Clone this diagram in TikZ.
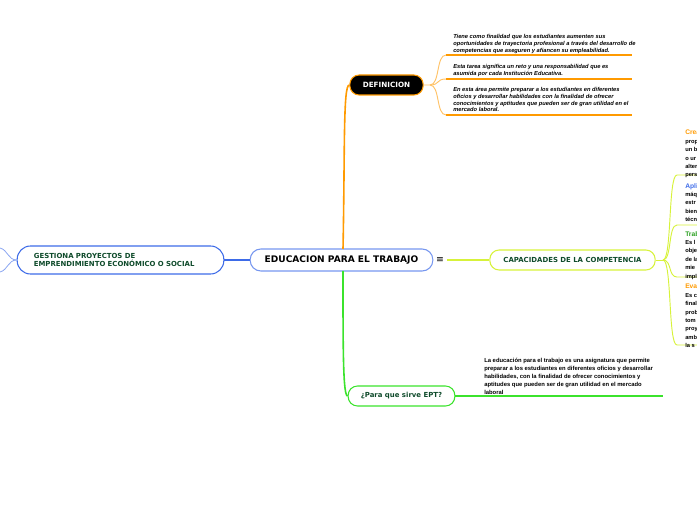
\documentclass[tikz,border=0pt]{standalone}
\usepackage{fontspec}
\setmainfont{DejaVu Sans}
\newfontfamily\arl{Liberation Sans}
\begin{document}
\begin{tikzpicture}[x=0.75pt,y=-0.75pt,
  small/.style={font=\arl\bfseries\fontsize{4.3}{5.1}\selectfont,align=left,anchor=north west,inner sep=0pt}]
\useasboundingbox (0,0) rectangle (697,520);
\clip (0,0) rectangle (697,520);
\definecolor{org}{HTML}{FF9A00}
\definecolor{blu}{HTML}{3D6BE8}
\definecolor{ylw}{HTML}{D7F23A}
\definecolor{grn}{HTML}{3BE32C}
\definecolor{dgr}{HTML}{0E4A2A}
% nodes
\node[rounded corners=8pt,draw=blu!70,line width=0.8pt,minimum width=137pt,minimum height=16.5pt,font=\bfseries\fontsize{6.8}{7.5}\selectfont] (center) at (341.5,260) {EDUCACION PARA EL TRABAJO};
\node[rounded corners=10pt,draw=blu,line width=0.8pt,minimum width=155pt,minimum height=21pt,text=dgr,font=\bfseries\fontsize{5.2}{6}\selectfont,align=left,text width=130pt] (gest) at (120.5,260) {GESTIONA PROYECTOS DE\\EMPRENDIMIENTO ECONÓMICO O SOCIAL};
\node[rounded corners=7pt,fill=black,draw=org,line width=0.8pt,minimum width=55pt,minimum height=15pt,text=white,font=\bfseries\fontsize{5.4}{6}\selectfont] (def) at (386.5,85) {DEFINICION};
\node[rounded corners=7pt,draw=ylw,line width=0.8pt,minimum width=124pt,minimum height=15pt,text=dgr,font=\bfseries\fontsize{5.2}{6}\selectfont] (cap) at (572.5,260) {CAPACIDADES DE LA COMPETENCIA};
\node[rounded corners=7pt,draw=grn,line width=0.8pt,minimum width=80pt,minimum height=15pt,text=dgr,font=\bfseries\fontsize{5.2}{6}\selectfont] (para) at (401.5,396) {¿Para que sirve EPT?};
\node[font=\fontsize{7}{7}\selectfont,inner sep=0pt] (eq) at (440,260) {≡};
% connectors
\draw[org,line width=1.2pt] (343,249) .. controls (345,150) and (343,85) .. (def.west);
\draw[grn,line width=1.2pt] (343,271) .. controls (343,350) and (343,396) .. (para.west);
\draw[blu,line width=0.8pt] (gest.east) -- (center.west);
\draw[ylw,line width=0.8pt] (eq.east)++(3,0) coordinate (e1) -- (cap.west);
\draw[blu!60,line width=0.6pt] (gest.west) .. controls (8,260) and (8,250) .. (0,248);
\draw[blu!60,line width=0.6pt] (gest.west) .. controls (8,260) and (8,270) .. (0,272);
% definitions
\coordinate (d1) at (446,55); \coordinate (d2) at (446,79); \coordinate (d3) at (446,115);
\draw[org!60,line width=0.7pt] (def.east) -- (430,85) .. controls (440,85) and (436,55) .. (d1);
\draw[org!60,line width=0.7pt] (430,85) .. controls (440,85) and (436,79) .. (d2);
\draw[org!60,line width=0.7pt] (430,85) .. controls (440,85) and (436,115) .. (d3);
\draw[org,line width=1pt] (d1) -- (632,55);
\draw[org,line width=1pt] (d2) -- (632,79);
\draw[org,line width=1pt] (d3) -- (632,115);
\node[small,font=\arl\bfseries\itshape\fontsize{4.3}{5.1}\selectfont] (t1) at (453,34) {Tiene como finalidad que los estudiantes aumenten  sus\\oportunidades de trayectoria profesional a través del desarrollo de\\competencias  que aseguren y afiancen  su empleabilidad.};
\node[small,font=\arl\bfseries\itshape\fontsize{4.3}{5.1}\selectfont] (t2) at (453,64) {Esta tarea  significa un reto y  una responsabilidad que es\\asumida por cada Institución  Educativa.};
\node[small,font=\arl\bfseries\itshape\fontsize{4.3}{5.1}\selectfont] (t3) at (453,87) {En esta área permite preparar a los estudiantes en diferentes\\oficios y desarrollar habilidades con la finalidad de ofrecer\\conocimientos y aptitudes que pueden ser de gran utilidad en el\\mercado laboral.};
% capacidades
\coordinate (k0) at (663,260);
\coordinate (k1) at (677,175); \coordinate (k2) at (677,225); \coordinate (k3) at (677,277); \coordinate (k4) at (677,345);
\draw[ylw,line width=0.7pt] (cap.east) -- (k0);
\foreach \k in {k1,k2,k3,k4}{\draw[ylw,line width=0.7pt] (k0) .. controls (672,260) and (668,0|-\k) .. (\k) -- (697,0|-\k);}
\node[small,font=\arl\bfseries\fontsize{4.3}{6.3}\selectfont] (c1) at (685,130) {\textcolor{org}{\fontsize{5}{6}\selectfont Crea}\\prop\\un b\\o ur\\alter\\pers};
\node[small,font=\arl\bfseries\fontsize{4.3}{6.3}\selectfont] (c2) at (685,183) {\textcolor{blu}{\fontsize{5}{6}\selectfont Apli}\\máq\\estr\\bien\\técn};
\node[small,font=\arl\bfseries\fontsize{4.3}{6.3}\selectfont] (c3) at (685,231) {\textcolor{grn!70!black}{\fontsize{5}{6}\selectfont Trab}\\Es l\\obje\\de la\\mie\\impl};
\node[small,font=\arl\bfseries\fontsize{4.3}{6.3}\selectfont] (c4) at (685,284) {\textcolor{org}{\fontsize{5}{6}\selectfont Eva}\\Es c\\final\\prob\\tom\\proy\\amb\\la s};
% para que sirve
\coordinate (p1) at (480,396);
\draw[grn,line width=1pt] (para.east) -- (p1) -- (663,396);
\node[small,font=\arl\bfseries\fontsize{4.4}{5.9}\selectfont] (pt) at (484,358) {La educación para el trabajo es una asignatura que permite\\preparar a los estudiantes en diferentes oficios y desarrollar\\habilidades, con la finalidad de ofrecer conocimientos y\\aptitudes que pueden ser de gran utilidad en el mercado\\laboral};
\end{tikzpicture}
\end{document}
